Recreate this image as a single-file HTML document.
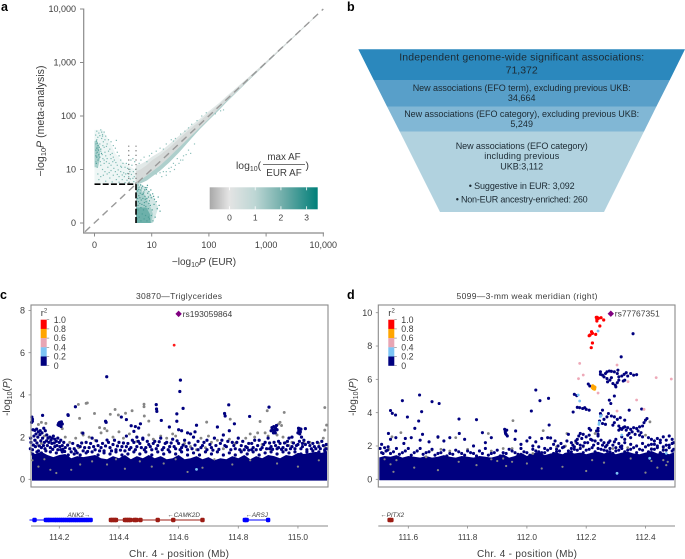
<!DOCTYPE html>
<html lang="en">
<head>
<meta charset="utf-8">
<title>Genome-wide association figure</title>
<style>
html,body{margin:0;padding:0;background:#fff;width:685px;height:559px;overflow:hidden}
svg{display:block;font-family:"Liberation Sans",sans-serif}
text{fill:#3c3c3c}
#funnelText text{fill:#1c2a33}
</style>
</head>
<body>
<svg id="fig" xmlns="http://www.w3.org/2000/svg" width="685" height="559" viewBox="0 0 685 559">
  <defs>
    <linearGradient id="cbar" x1="0" x2="1" y1="0" y2="0"></linearGradient>
  </defs>
  <rect width="685" height="559" fill="#fff"/>

  <g id="panelA">
    <text x="1" y="11" font-size="12.5" font-weight="bold" style="fill:#000">a</text>
    <text transform="translate(44,121) rotate(-90)" text-anchor="middle" font-size="10.6">−log<tspan font-size="7.4" dy="2">10</tspan><tspan dy="-2" font-style="italic">P</tspan> (meta-analysis)</text>
    <text x="204" y="265" text-anchor="middle" font-size="10">−log<tspan font-size="7" dy="2">10</tspan><tspan dy="-2" font-style="italic">P</tspan> (EUR)</text>
    <text x="236" y="169" font-size="10.4">log<tspan font-size="7" dy="2">10</tspan><tspan dy="-2">(</tspan></text>
    <text x="284" y="160" text-anchor="middle" font-size="9.8">max AF</text>
    <line x1="263" x2="305" y1="164.5" y2="164.5" stroke="#444" stroke-width="0.8"/>
    <text x="284" y="176" text-anchor="middle" font-size="9.8">EUR AF</text>
    <text x="305.5" y="169" font-size="10.4">)</text>
    <rect x="209.7" y="187.3" width="108" height="22" fill="url(#cbar)"/>
  </g>

  <g id="panelB">
    <text x="347" y="11" font-size="12.5" font-weight="bold" style="fill:#000">b</text>
    <polygon points="358.3,49.3 685,49.3 669.8,80 373.7,80" fill="#2b88bd"/>
    <polygon points="373.7,80 669.8,80 656.4,106.5 387,106.5" fill="#589fc9"/>
    <polygon points="387,106.5 656.4,106.5 644,131.5 399.7,131.5" fill="#81b7d5"/>
    <polygon points="399.7,131.5 644,131.5 604,212 440,212" fill="#b1d2df"/>
    <g id="funnelText" text-anchor="middle" style="dominant-baseline:central">
      <text x="521.7" y="57.7" font-size="10.5" textLength="245">Independent genome-wide significant associations:</text>
      <text x="521.7" y="70.3" font-size="10.5">71,372</text>
      <text x="521.7" y="88" font-size="9" textLength="218">New associations (EFO term), excluding previous UKB:</text>
      <text x="521.7" y="98" font-size="9">34,664</text>
      <text x="521.7" y="114" font-size="9" textLength="235">New associations (EFO category), excluding previous UKB:</text>
      <text x="521.7" y="124" font-size="9">5,249</text>
      <text x="521.7" y="146" font-size="9" textLength="132">New associations (EFO category)</text>
      <text x="521.7" y="156" font-size="9" textLength="75">including previous</text>
      <text x="521.7" y="166.5" font-size="9">UKB:3,112</text>
      <text x="521.7" y="186" font-size="9" textLength="106">• Suggestive in EUR: 3,092</text>
      <text x="521.7" y="199.5" font-size="9" textLength="132">• Non-EUR ancestry-enriched: 260</text>
    </g>
  </g>

  <g id="panelC">
    <text x="0" y="299" font-size="12.5" font-weight="bold" style="fill:#000">c</text>
    <text x="179" y="299" text-anchor="middle" font-size="8.5" textLength="86">30870—Triglycerides</text>
    <text transform="translate(10,397) rotate(-90)" text-anchor="middle" font-size="10">-log<tspan font-size="7" dy="2">10</tspan><tspan dy="-2">(</tspan><tspan font-style="italic">P</tspan>)</text>
    <text x="179" y="557" text-anchor="middle" font-size="10" textLength="100">Chr. 4 - position (Mb)</text>
  </g>
  <g id="panelD">
    <text x="347" y="299" font-size="12.5" font-weight="bold" style="fill:#000">d</text>
    <text x="527" y="299" text-anchor="middle" font-size="8.5" textLength="141">5099—3-mm weak meridian (right)</text>
    <text transform="translate(356,397) rotate(-90)" text-anchor="middle" font-size="10">-log<tspan font-size="7" dy="2">10</tspan><tspan dy="-2">(</tspan><tspan font-style="italic">P</tspan>)</text>
    <text x="527" y="557" text-anchor="middle" font-size="10" textLength="100">Chr. 4 - position (Mb)</text>
  </g>
</svg>

<script>
/* ---------- panel a data ---------- */
const aTickValues = [0, 10, 100, 1000, 10000];
const aTickLabels = ['0', '10', '100', '1,000', '10,000'];
const aThresholdEur = 4.7;
const aThresholdMeta = 4.7;
const aDottedEur = [3.2, 4.7];
const aDottedTop = 28;
const bandEur = [4.7, 6, 8, 10, 14, 20, 30, 50, 70, 100, 150, 200, 300, 500, 1000, 2000, 5000, 7000];
const bandHi = [12, 12.5, 14.5, 17, 21, 29, 42, 67, 88, 122, 172, 228, 332, 532, 1040, 2050, 5050, 7000];
const bandLo = [4.7, 5, 5.8, 7, 9.5, 13.5, 21, 39, 58, 85, 130, 180, 275, 470, 960, 1950, 4950, 7000];
const coreHi = [9, 10, 12, 14.5, 18.5, 25, 37, 60, 80, 112, 160, 215, 318, 520, 1025, 2030, 5030, 7000];
const coreLo = [4.7, 6, 7.5, 9, 12, 17, 26, 44, 62, 90, 140, 190, 285, 482, 975, 1970, 4970, 7000];
const leftBlobMeta = [4.7, 7, 10, 14, 20, 30, 40, 55];
const leftBlobEur = [4.7, 4.7, 4.4, 2.2, 1.4, 1, 0.7, 0.4];
const bottomBlobMeta = [0, 0.5, 1, 2, 3, 4, 4.7];
const bottomBlobEur = [10.5, 12, 13, 11, 9, 7.5, 6];
const bottomMidEur = [10, 10.5, 9.5, 8, 6.5, 5.3, 4.7];
const bottomCoreEur = [9.6, 9.2, 7.8, 5.8, 4.7, 4.7, 4.7];
const leftDarkMeta = [11, 15, 20, 28, 34];
const leftDarkEur = [0.16, 0.24, 0.26, 0.22, 0.12];
const aLeftSpecks = [[0.1,52],[0.2,48],[0.3,55],[0.4,45],[0.5,50],[0.15,40],[0.35,38],[0.6,42],[0.8,36],[0.7,30],[1,33],[1.2,28],[0.5,26],[0.9,24],[1.4,25],[1.1,20],[1.6,21],[1.8,18],[0.6,18],[1,16],[1.3,15],[2,15],[2.3,13],[0.5,13],[1,12],[1.6,12],[2,11.5],[2.6,11],[3,10.5],[0.4,10],[1,9.5],[1.4,9],[2,9],[2.4,8.5],[3,8.2],[3.4,9],[0.7,8],[1.2,7.5],[1.8,7],[2.5,7],[3.2,7],[3.7,7.8],[4.1,9],[0.3,7],[0.9,6.5],[1.5,6],[2.2,6],[2.9,5.8],[3.5,6.2],[4,6.4],[4.3,7],[0.2,6],[0.6,5.5],[1.1,5.3],[1.8,5.2],[2.6,5.1],[3.3,5.2],[4.2,5.4],[3.4,10],[3.8,12],[4.4,14],[2.8,13],[3.2,12.5],[0.3,22],[0.25,30],[0.12,26],[0.18,18],[0.45,33],[0.28,14],[0.55,21],[1.5,35],[2.1,11],[4.6,10],[4,16],[3.6,15],
[0.05,44],[0.1,36],[0.05,30],[0.15,24],[0.08,20],[0.2,16],[0.06,14],[0.3,12],[0.12,11],[0.42,16],[0.65,14],[0.75,11],[0.55,9],[0.85,8.6],[1.25,10.5],[1.7,9.8],[0.4,42],[0.55,36],[0.65,27],[0.8,22],[0.95,19],[1.2,17],[1.45,13.5],[1.15,14],[0.85,13],[0.35,50],[0.25,43],[0.42,28],[0.38,19],[0.5,15],[0.7,16],[2.7,8],[2.2,7.6],[1.6,7.8],[0.15,8],[0.45,7.5]];
const aLeftDarkSpecks = [[0.08,34],[0.12,31],[0.16,28],[0.1,25],[0.18,23],[0.12,21],[0.2,19],[0.1,17],[0.16,15],[0.22,26],[0.25,17],[0.08,13],[0.06,23],[0.06,18],[0.3,24],[0.34,20]];
const aBottomSpecks = [[5,0.2],[5.5,0.3],[6,0.1],[6.4,0.5],[7,0.2],[7.5,0.4],[8,0.1],[8.6,0.3],[9,0.2],[9.8,0.4],[10.5,0.1],[11.5,0.3],[5.2,0.8],[6,1],[6.8,0.8],[7.6,1.1],[8.5,0.9],[9.4,1.2],[10.2,0.8],[11,1.3],[12.5,0.9],[13.5,1.2],[5.3,1.6],[6.1,1.8],[7.1,1.5],[8,2],[9,1.7],[9.8,2.1],[11.2,1.9],[12,1.6],[5.4,2.4],[6.4,2.6],[7.3,2.3],[8.3,2.8],[9.4,2.5],[10.4,2.7],[5.1,3.2],[6,3.4],[6.9,3],[7.8,3.5],[8.8,3.1],[5.5,4],[6.5,4.2],[7.4,3.9],[8.2,4.4],[5.2,4.5],[14,0.7],[13,2.2],
[5.2,1.2],[5.7,1.4],[6.3,1.3],[7,1.2],[7.7,1.6],[8.8,1.4],[5.1,2],[5.7,2.1],[6.6,2],[7.4,1.9],[8.6,2.2],[5.8,2.8],[6.8,2.7],[5.4,3.5],[5.9,4.5],[6.2,3.8],[7.2,3.4],[9.6,3.4],[10.8,2.3],[8,3.9]];
const aBandSpecks = [[12,8],[14,8.5],[16,9],[18,9],[20,10.5],[22,11],[24,13],[26,12],[28,16],[32,15],[36,18],[44,23],[48,20],[56,30],[12,22],[14,25],[18,30],[22,36],[26,38],[32,46],[38,52],[44,60],[50,70],[62,82],[75,100],[90,115],[130,110],[160,125],[180,130],[8,14],[10,20],[7,17],[9,18],[6,15],[5.5,13],[16,24],[24,34],[15,7],[18,7.5],[21,9],[25,10],[30,13],[35,15],[40,19]];
const cbarTicks = [0, 1, 2, 3];
const cbarMin = -0.77;
const cbarMax = 3.43;
const cbarOffsets = [0, 0.18, 0.42, 0.7, 1];
const cbarColors = ['#a8a8a8', '#e4e4e4', '#bdd6d4', '#69aaa6', '#007f79'];

/* ---------- panel c data ---------- */
const cXTicks = [114.2, 114.4, 114.6, 114.8, 115.0];
const cYTicks = [0, 2, 4, 6, 8];
const cMassX0 = 114.1;
const cMassStep = 0.02;
const cMassTop = [1.3,1.2,1.3,1.15,1.05,1.15,1.2,1.0,1.1,1.05,1.1,1.15,1.0,0.95,1.1,1.0,1.15,0.95,1.1,1.0,1.15,1.0,1.1,0.95,1.0,1.15,0.95,1.0,1.1,0.95,1.05,0.9,1.0,0.95,1.1,1.0,1.15,0.95,1.1,1.0,1.15,1.1,1.0,1.15,1.1,1.25,1.2,1.25,1.3,1.25,1.35];
const cNavy = [[114.108,2.95],[114.11,2.85],[114.11,2.75],[114.107,2.7],[114.144,3.03],[114.104,1.95],[114.103,1.45],
[114.112,2.35],[114.118,2.32],[114.124,2.38],[114.13,2.25],[114.136,2.3],[114.142,2.2],[114.115,2.05],[114.122,2.15],[114.128,2.0],[114.135,2.12],[114.148,2.42],[114.144,1.95],[114.153,2.3],[114.158,2.1],[114.162,1.95],[114.168,2.0],[114.172,1.85],[114.176,1.95],[114.18,2.05],[114.185,1.9],[114.19,1.8],[114.195,1.95],[114.2,1.75],[114.205,1.85],[114.21,1.6],[114.215,1.75],[114.22,1.5],[114.15,1.75],[114.16,1.6],[114.17,1.5],[114.175,1.7],[114.185,1.55],[114.195,1.4],[114.205,1.4],[114.11,1.4],[114.12,1.55],[114.13,1.35],[114.14,1.5],
[114.198,2.65],[114.201,2.7],[114.204,2.6],[114.207,2.72],[114.2,2.55],[114.206,2.5],[114.21,2.62],[114.196,2.58],
[114.23,3.03],[114.254,3.44],[114.229,3.06],[114.355,2.75],[114.357,2.7],[114.359,4.86],[114.279,2.19],[114.36,1.86],[114.31,1.95],[114.29,1.75],[114.3,1.5],[114.27,1.55],[114.25,1.45],[114.24,1.3],[114.26,1.25],[114.28,1.35],[114.32,1.4],[114.33,1.6],[114.345,1.7],[114.35,1.35],[114.37,1.5],[114.38,1.65],[114.39,1.4],[114.4,1.75],[114.41,1.55],[114.42,1.35],[114.43,1.7],[114.44,1.5],[114.45,1.75],[114.46,1.55],[114.47,1.7],[114.48,1.9],[114.49,1.5],[114.5,1.65],[114.51,1.4],[114.52,1.8],[114.53,1.6],[114.54,1.95],[114.55,1.5],[114.56,1.75],[114.57,1.55],[114.58,1.9],[114.59,1.45],[114.6,1.7],[114.61,1.5],[114.62,1.85],[114.63,1.4],
[114.525,3.54],[114.526,3.33],[114.527,3.22],[114.542,2.79],[114.594,3.1],[114.594,2.75],[114.569,2.48],[114.408,2.95],[114.425,2.83],[114.441,2.54],[114.455,2.5],[114.466,2.43],[114.472,2.63],[114.45,2.27],[114.425,2.05],[114.46,2.0],[114.48,1.95],[114.606,4.7],[114.604,4.16],[114.615,3.36],[114.6,2.35],[114.61,2.3],[114.63,2.2],[114.64,2.15],[114.65,2.0],[114.655,2.25],[114.66,2.56],[114.665,1.8],[114.68,1.6],
[114.754,3.12],[114.756,3.0],[114.768,3.53],[114.787,2.63],[114.838,2.98],[114.903,3.42],[114.73,2.48],[114.695,1.85],[114.71,1.5],[114.72,1.95],[114.74,1.7],[114.75,2.1],[114.76,1.55],[114.77,2.3],[114.78,1.75],[114.79,1.45],[114.8,1.95],[114.81,1.6],[114.82,1.4],[114.83,1.5],[114.845,1.7],[114.86,1.4],[114.87,1.85],[114.88,1.5],[114.89,1.75],[114.9,1.95],[114.91,1.55],[114.92,1.75],[114.93,1.45],[114.94,1.7],[114.95,1.5],[114.96,1.4],[114.97,1.95],[114.98,2.0],[114.99,1.45],[115.0,1.65],[115.01,1.45],[115.02,1.85],[115.03,1.4],[115.04,1.6],[115.05,1.7],[115.06,1.45],[115.07,1.55],[115.08,1.8],[115.09,1.4],[115.095,1.65],
[114.91,2.3],[114.913,2.45],[114.916,2.35],[114.919,2.5],[114.922,2.3],[114.925,2.42],[114.928,2.55],[114.918,2.2],[114.924,2.2],[114.93,2.35],
[115.0,2.2],[115.003,2.32],[115.005,2.4],[115.008,2.25],[115.01,2.38],[115.002,2.42],[115.006,2.15],[115.012,2.0],[115.025,2.4],
[114.11,1.2],[114.125,1.3],[114.14,1.25],[114.155,1.35],[114.17,1.3],[114.19,1.25],[114.21,1.3],[114.23,1.15],[114.25,1.2],[114.27,1.15],[114.29,1.25],[114.31,1.3],[114.33,1.15],[114.35,1.25],[114.37,1.2],[114.39,1.3],[114.41,1.15],[114.43,1.2],[114.45,1.3],[114.47,1.2],[114.49,1.3],[114.51,1.15],[114.53,1.3],[114.55,1.2],[114.57,1.3],[114.59,1.2],[114.61,1.3],[114.63,1.15],[114.65,1.25],[114.67,1.15],[114.69,1.3],[114.71,1.2],[114.73,1.3],[114.75,1.15],[114.77,1.25],[114.79,1.15],[114.81,1.3],[114.83,1.2],[114.85,1.3],[114.87,1.15],[114.89,1.25],[114.91,1.3],[114.93,1.2],[114.95,1.3],[114.97,1.25],[114.99,1.3],[115.01,1.2],[115.03,1.3],[115.05,1.35],[115.07,1.3],[115.09,1.35]];
const cNavyExtra = [[114.105,1.75],[114.113,1.62],[114.118,1.85],[114.125,1.72],[114.133,1.58],[114.138,1.82],[114.147,1.6],[114.152,1.45],[114.157,1.82],[114.165,1.75],[114.178,1.42],[114.183,1.72],[114.192,1.6],[114.202,1.55],[114.212,1.42],[114.218,1.32],
[114.228,1.62],[114.235,1.45],[114.245,1.7],[114.255,1.35],[114.262,1.6],[114.275,1.72],[114.285,1.5],[114.295,1.32],[114.305,1.7],[114.315,1.55],[114.325,1.82],[114.335,1.35],[114.34,1.5],[114.355,1.58],[114.365,1.75],[114.375,1.35],[114.385,1.85],[114.395,1.58],
[114.405,1.38],[114.415,1.72],[114.425,1.55],[114.435,1.42],[114.445,1.85],[114.455,1.4],[114.465,1.8],[114.475,1.5],[114.485,1.4],[114.495,1.8],[114.505,1.55],[114.515,1.7],[114.525,1.45],[114.535,1.78],[114.545,1.4],[114.555,1.7],[114.565,1.4],[114.575,1.72],[114.585,1.55],[114.595,1.82],
[114.605,1.4],[114.615,1.62],[114.625,1.55],[114.635,1.72],[114.645,1.45],[114.655,1.62],[114.665,1.4],[114.675,1.5],[114.685,1.75],[114.695,1.4],[114.705,1.65],[114.715,1.38],[114.725,1.6],[114.735,1.42],[114.745,1.85],[114.755,1.6],[114.765,1.8],[114.775,1.4],[114.785,1.6],[114.795,1.75],
[114.805,1.4],[114.815,1.8],[114.825,1.55],[114.835,1.7],[114.85,1.5],[114.855,1.85],[114.865,1.6],[114.875,1.42],[114.885,1.65],[114.895,1.45],[114.905,1.72],[114.915,1.42],[114.925,1.6],[114.935,1.8],[114.945,1.42],[114.955,1.72],[114.965,1.6],[114.975,1.45],[114.985,1.72],[114.995,1.6],
[115.005,1.8],[115.015,1.55],[115.025,1.65],[115.035,1.75],[115.045,1.45],[115.055,1.55],[115.065,1.75],[115.075,1.45],[115.085,1.6],[115.095,1.45],[114.845,1.4],[114.835,1.38],[114.905,1.45],[114.935,1.5],[114.965,1.8],[114.98,1.55],[115.015,1.7]];
const cGrey = [[114.264,3.55],[114.29,3.6],[114.294,3.62],[114.318,3.12],[114.268,2.89],[114.371,3.08],[114.387,3.31],[114.398,3.05],[114.422,3.13],[114.444,3.25],[114.484,3.56],[114.484,3.44],[114.485,3.0],[114.5,2.76],[114.352,2.41],[114.335,2.45],[114.275,2.2],[114.694,2.71],[114.773,2.85],[114.873,2.74],[114.954,3.17],[115.09,3.4],[115.096,2.57],[115.09,2.33],[114.94,2.7],[114.935,2.62],[114.945,2.55],[114.93,2.1],[114.897,3.25],[114.21,2.4],[114.155,2.65],[114.14,2.7],[114.13,2.6],[114.15,2.05],[114.14,1.7],[114.13,1.6],[114.12,1.85],[114.22,2.0],[114.235,1.75],[114.255,1.95],[114.265,1.5],[114.28,2.1],[114.3,2.0],[114.32,1.85],[114.34,2.2],[114.36,2.3],[114.38,2.0],[114.4,2.25],[114.415,1.95],[114.435,2.15],[114.46,1.8],[114.5,2.1],[114.515,1.9],[114.54,2.05],[114.56,1.95],[114.58,2.15],[114.59,2.05],[114.62,1.7],[114.64,1.55],[114.66,1.4],[114.675,1.95],[114.7,2.05],[114.69,1.5],[114.71,1.75],[114.73,1.85],[114.75,1.45],[114.77,1.9],[114.79,1.7],[114.81,1.35],[114.825,1.95],[114.84,2.15],[114.855,2.0],[114.865,2.2],[114.88,1.65],[114.89,2.2],[114.9,2.05],[114.95,2.0],[114.96,1.75],[114.97,1.6],[114.98,1.75],[115.02,1.75],[115.04,1.75],[115.07,1.7],[115.085,1.95],[115.09,1.55]];
const cGreyLow = [[114.11,0.9],[114.13,0.6],[114.15,0.95],[114.17,0.45],[114.19,0.3],[114.24,0.45],[114.27,0.7],[114.31,0.85],[114.36,0.7],[114.39,0.95],[114.42,0.5],[114.47,0.85],[114.51,0.6],[114.55,0.75],[114.59,0.95],[114.63,0.35],[114.68,0.55],[114.72,0.95],[114.78,0.7],[114.84,0.9],[114.93,0.75],[115.0,0.6],[115.07,0.9]];
const cLightBlue = [[114.66,0.47]];
const cRed = [[114.585,6.36]];
const cLead = [114.6, 7.84];

/* ---------- panel d data ---------- */
const dXTicks = [111.6, 111.8, 112.0, 112.2, 112.4];
const dYTicks = [0, 2, 4, 6, 8, 10];
const dMassX0 = 111.5;
const dMassStep = 0.02;
const dMassTop = [1.3,1.4,1.35,1.45,1.3,1.4,1.35,1.3,1.4,1.3,1.35,1.45,1.35,1.3,1.4,1.35,1.3,1.4,1.35,1.3,1.4,1.5,1.3,1.4,1.6,1.4,1.55,1.65,1.45,1.55,1.6,1.5,1.65,1.55,1.6,1.5,1.6,1.65,1.55,1.65,1.5,1.6,1.65,1.55,1.5,1.6,1.7,1.55,1.6,1.5,1.65];
const dNavy = [[111.54,4.13],[111.546,3.96],[111.557,3.86],[111.58,4.72],[111.597,3.74],[111.638,5.06],[111.645,4.06],[111.635,3.5],[111.622,3.06],[111.68,4.66],[111.704,4.55],[111.771,3.62],[111.83,3.58],[112.03,5.36],[112.044,4.72],[112.073,4.86],[112.015,4.1],[112.075,3.26],[112.16,5.1],[112.168,5.02],[112.156,4.04],
[111.533,2.75],[111.54,2.4],[111.558,2.5],[111.51,2.1],[111.52,1.9],[111.532,1.95],[111.59,2.45],[111.61,2.5],[111.585,2.15],[111.648,2.7],[111.64,2.35],[111.67,2.25],[111.7,2.55],[111.72,2.3],[111.74,2.5],[111.772,2.75],[111.79,2.4],[111.85,2.8],[111.86,2.2],[111.82,2.0],[111.88,2.5],
[111.925,3.0],[111.927,2.85],[111.93,2.7],[111.932,2.95],[111.934,2.6],[111.928,2.75],[111.962,2.9],[111.96,2.4],[111.98,2.1],[112.0,2.3],[112.01,2.5],[112.03,2.25],[112.05,2.45],[112.07,2.5],[112.08,2.48],[112.09,2.1],[112.02,2.0],[112.04,1.95],[112.06,1.85],[112.1,1.8],
[112.14,2.7],[112.15,2.2],[112.17,2.4],[112.175,2.6],[112.18,2.75],[112.165,2.3],[112.185,2.45],[112.19,2.7],[112.2,2.55],[112.21,2.65],[112.215,2.4],[112.195,2.2],[112.18,2.05],[112.16,1.95],[112.15,1.85],[112.21,3.05],[112.215,2.95],[112.235,2.9],[112.24,2.7],[112.22,2.35],[112.23,2.3],[112.24,2.15],[112.25,2.35],[112.26,2.2],[112.27,2.05],[112.28,2.3],[112.29,2.05],[112.3,1.9],[112.31,2.15],[112.32,2.0],[112.265,1.95],[112.28,1.85],[112.3,2.4],
[112.24,3.05],[112.245,3.5],[112.25,3.85],[112.255,4.15],[112.248,3.95],[112.26,3.6],[112.27,3.75],[112.275,3.95],[112.285,3.8],[112.295,3.75],[112.305,3.6],[112.315,3.7],[112.33,3.55],[112.255,3.35],[112.265,3.3],[112.24,2.9],[112.24,2.6],[112.29,3.25],[112.295,3.4],[112.31,3.2],[112.32,3.0],[112.33,3.15],
[112.31,2.95],[112.315,3.05],[112.325,3.1],[112.335,2.95],[112.34,3.1],[112.35,3.0],[112.355,2.85],[112.36,3.1],[112.37,3.05],[112.375,2.9],[112.38,3.15],[112.39,3.2],[112.385,2.8],[112.395,3.4],[112.4,3.55],[112.405,3.65],[112.345,2.75],[112.365,2.7],[112.34,2.65],[112.32,2.55],
[112.38,2.65],[112.39,2.55],[112.41,2.5],[112.42,2.4],[112.43,2.3],[112.44,2.45],[112.45,2.2],[112.46,2.55],[112.47,2.35],[112.48,2.6],[112.49,2.4],[112.495,2.2],[112.42,2.1],[112.44,2.0],[112.46,1.95],[112.48,2.05],
[112.178,4.3],[112.188,4.25],[112.195,4.3],[112.2,4.2],[112.21,4.15],[112.17,4.32],[112.207,5.72],[112.212,5.6],[112.248,6.3],[112.265,6.35],[112.27,6.45],[112.278,6.5],[112.285,6.48],[112.295,6.45],[112.305,6.35],[112.31,6.15],[112.31,5.95],[112.305,5.8],[112.298,5.65],[112.29,5.75],[112.28,5.95],[112.27,6.05],[112.26,6.15],[112.272,5.85],[112.255,6.25],[112.285,6.1],[112.3,5.55],[112.32,6.2],[112.328,6.3],[112.335,6.4],[112.34,6.2],[112.35,6.35],[112.36,6.25],[112.37,6.28],[112.33,5.95],[112.325,5.9],[112.248,6.45],[112.318,7.35],[112.307,6.55],[112.358,8.74],[112.295,5.0],[112.278,4.75],[112.283,4.55],[112.387,4.22],[112.345,4.15],
[111.51,1.6],[111.53,1.75],[111.55,1.65],[111.57,1.5],[111.59,1.7],[111.61,1.45],[111.63,1.7],[111.65,1.5],[111.67,1.65],[111.69,1.45],[111.71,1.6],[111.73,1.4],[111.75,1.5],[111.77,1.65],[111.79,1.45],[111.81,1.6],[111.83,1.4],[111.85,1.55],[111.87,1.45],[111.89,1.6],[111.91,1.4],[111.93,1.55],[111.95,1.7],[111.97,1.5],[111.99,1.65],[112.01,1.45],[112.03,1.7],[112.05,1.6],[112.07,1.75],[112.09,1.55],[112.11,1.7],[112.13,1.5],[112.15,1.65],[112.17,1.75],[112.19,1.6],[112.21,1.8],[112.23,1.65],[112.25,1.8],[112.27,1.7],[112.29,1.55],[112.31,1.75],[112.33,1.65],[112.35,1.8],[112.37,1.6],[112.39,1.75],[112.41,1.65],[112.43,1.8],[112.45,1.6],[112.47,1.75],[112.49,1.7]];
const dNavyExtra = [[111.505,1.85],[111.515,1.55],[111.525,1.7],[111.54,1.55],[111.56,1.85],[111.58,1.6],[111.6,1.85],[111.62,1.6],[111.64,1.85],[111.66,1.6],[111.68,1.8],[111.7,1.55],[111.72,1.75],[111.74,1.55],[111.76,1.75],[111.78,1.55],[111.8,1.7],[111.82,1.55],[111.84,1.7],[111.86,1.85],[111.88,1.55],[111.9,1.75],[111.92,1.6],[111.94,1.8],[111.96,1.6],[111.98,1.85],[112.0,1.6],[112.02,1.8],[112.04,1.65],[112.06,1.6],[112.08,1.85],[112.1,1.65],[112.12,1.9],[112.14,1.7],[112.16,1.8],[112.18,1.85],[112.2,1.75],[112.22,1.9],[112.24,1.85],[112.26,1.75],[112.28,1.65],[112.3,1.7],[112.32,1.85],[112.34,1.75],[112.36,1.9],[112.38,1.8],[112.4,1.95],[112.42,1.8],[112.44,1.9],[112.46,1.75],[112.48,1.9],[112.495,1.8],
[112.095,2.3],[112.105,2.0],[112.115,2.15],[112.125,1.95],[112.135,2.3],[112.155,2.05],[112.17,2.15],[112.19,2.0],[112.205,2.2],[112.225,2.05],[112.255,2.05],[112.275,2.2],[112.295,2.25],[112.315,1.95],[112.33,2.2],[112.35,2.1],[112.37,2.0],[112.39,2.15],[112.41,2.05],[112.43,2.1],[112.45,2.35],[112.47,2.05],[112.49,2.15],[112.33,2.4],[112.35,2.5]];
const dGrey = [[111.545,2.55],[111.575,2.8],[111.535,1.8],[111.6,1.85],[111.7,2.5],[111.76,2.5],[111.87,2.75],[111.953,3.52],[112.055,2.92],[112.135,2.75],[112.165,2.2],[112.23,2.75],[112.415,3.45],[112.4,2.65],[111.66,1.35],[111.68,1.75],[111.71,1.8],[111.74,1.7],[111.8,1.8],[111.88,1.7],[111.92,1.85],[111.95,1.85],[111.98,1.85],[112.02,1.55],[112.1,1.95],[112.13,2.0],[112.19,1.95],[112.29,1.85],[112.34,1.9],[112.42,1.85],[112.46,1.85]];
const dGreyLow = [[111.52,1.2],[111.54,0.9],[111.56,1.15],[111.77,1.05],[111.88,1.2],[111.9,1.1],[111.92,1.25],[111.93,0.8],[111.95,1.05],[112.0,0.95],[112.22,1.15],[112.26,1.0],[112.35,1.25],[112.42,1.1],[112.44,0.7],[112.46,1.15],[112.47,0.85],[112.475,1.05],[111.55,0.45],[111.62,0.7],[111.7,0.55],[111.83,0.85],[112.05,0.65],[112.12,0.75],[112.2,0.5],[112.4,0.4]];
const dLightBlue = [[112.24,8.9],[112.173,5.06],[112.178,4.7],[112.248,3.77],[112.244,3.42],[112.25,3.82],[112.32,2.66],[112.304,0.36],[112.47,1.56],[112.414,1.26],[112.243,3.3]];
const dPink = [[112.178,6.96],[112.19,6.26],[112.174,6.04],[112.304,6.86],[112.341,5.86],[112.436,6.1],[112.487,6.02],[112.24,5.18],[112.37,4.76],[112.395,4.2],[112.304,4.1]];
const dOrange = [[112.222,5.6],[112.226,5.55],[112.224,5.45],[112.228,5.42],[112.221,5.5],[112.229,5.52]];
const dRed = [[112.234,9.72],[112.236,9.6],[112.236,9.5],[112.25,9.7],[112.259,9.56],[112.241,9.66],[112.246,9.2],[112.213,8.66],[112.21,8.62],[112.218,8.86],[112.221,8.76],[112.232,8.7],[112.221,8.18],[112.217,7.9],[112.237,9.72]];
const dLead = [112.283, 9.94];

/* ---------- legend and gene data ---------- */
const r2Labels = ['1.0', '0.8', '0.6', '0.4', '0.2', '0'];
const r2Colors = ['#ff0000', '#ffa500', '#e8a5b3', '#7cc4f4', '#00007f'];
const cAnk2Exons = [114.117,114.155,114.162,114.168,114.176,114.184,114.19,114.197,114.204,114.211,114.218,114.225,114.232,114.238,114.245,114.252,114.258,114.265,114.272,114.28,114.288,114.296,114.305];
const cAnk2Span = [114.1, 114.31];
const cCamk2dExons = [114.373,114.378,114.385,114.39,114.42,114.426,114.432,114.438,114.452,114.458,114.472,114.53,114.582,114.68];
const cCamk2dSpan = [114.37, 114.685];
const cArsjExons = [114.822, 114.828, 114.9];
const cArsjSpan = [114.82, 114.902];
const dPitx2Exons = [111.537, 111.543];
const dPitx2Span = [111.535, 111.545];

/* ---------- scales ---------- */
const SVGNS = 'http://www.w3.org/2000/svg';
const pseudoLog = v => v <= 10 ? Math.log10(1 + v) / Math.log10(11) : Math.log10(v);
const ax = v => 94.5 + 57.2 * pseudoLog(v);
const ay = v => 223 - 53.5 * pseudoLog(v);
const cx = v => 59.3 + (v - 114.2) * 298.3;
const cy = v => 479.3 - v * 21.1;
const dx = v => 408.3 + (v - 111.6) * 296.5;
const dy = v => 479.3 - v * 16.66;

function mk(parent, name, attrs) {
  const e = document.createElementNS(SVGNS, name);
  for (const k in attrs) e.setAttribute(k, attrs[k]);
  parent.appendChild(e);
  return e;
}
const polyStr = pts => pts.map(p => p[0].toFixed(2) + ',' + p[1].toFixed(2)).join(' ');
const zip = (xs, ys) => xs.map((x, i) => [x, ys[i]]);

/* ---------- panel a ---------- */
const A = document.getElementById('panelA');
const aMarks = mk(A, 'g', {});



function blobLeft(metas, eurs, fill, name) {
  const pts = [[ax(0), ay(metas[0])]].concat(metas.map((m, i) => [ax(eurs[i]), ay(m)]));
  pts.push([ax(0), ay(metas[metas.length - 1])]);
  const p = mk(aMarks, 'polygon', {points: polyStr(pts), fill: fill});
  
  
}
blobLeft(leftBlobMeta, leftBlobEur, '#eef6f5', 'left-blob-density');
blobLeft(leftDarkMeta, leftDarkEur, '#a8d0cc', 'left-blob-core');

function blobBottom(metas, eurs, fill, name) {
  const pts = metas.map((m, i) => [ax(eurs[i]), ay(m)]);
  pts.push([ax(aThresholdEur), ay(metas[metas.length - 1])]);
  pts.push([ax(aThresholdEur), ay(0)]);
  const p = mk(aMarks, 'polygon', {points: polyStr(pts), fill: fill});
  
  
}
blobBottom(bottomBlobMeta, bottomBlobEur, '#d3e7e5', 'bottom-blob-density');
blobBottom(bottomBlobMeta, bottomMidEur, '#a6cfcb', 'bottom-blob-mid');
blobBottom(bottomBlobMeta.slice(0, 3), bottomCoreEur.slice(0, 3), '#6cb0aa', 'bottom-blob-core');

function bandPoly(hi, lo, fill, name) {
  const pts = zip(bandEur, hi).map(d => [ax(d[0]), ay(d[1])])
    .concat(zip(bandEur, lo).reverse().map(d => [ax(d[0]), ay(d[1])]));
  const p = mk(aMarks, 'polygon', {points: polyStr(pts), fill: fill, stroke: fill, 'stroke-width': 0.5});
  
  
}
bandPoly(bandHi, coreLo, '#e2e9e8', 'diagonal-band-upper');
bandPoly(coreLo, bandLo, '#aecfcc', 'diagonal-band-lower');
bandPoly(coreHi, coreLo, '#d6dad9', 'diagonal-band-core');

function specks(list, fill, name) {
  list.forEach(d => {
    const s = mk(aMarks, 'rect', {x: ax(d[0]) - 0.6, y: ay(d[1]) - 0.6, width: 1.2, height: 1.2, fill: fill});
    
    
  });
}
specks(aLeftSpecks, '#7fbab4', 'left-speck');
specks(aLeftDarkSpecks, '#4f9f98', 'left-dark-speck');
specks(aBottomSpecks, '#4c9d96', 'bottom-speck');
specks(aBandSpecks, '#8dc0bb', 'band-speck');

const diag = mk(A, 'line', {x1: ax(0) - 9.5, y1: ay(0) + 8.7, x2: ax(10000), y2: ay(10000), stroke: '#999', 'stroke-width': 1.4, 'stroke-dasharray': '7 5'});



const hThresh = mk(A, 'line', {x1: ax(0), y1: ay(aThresholdMeta), x2: ax(aThresholdEur), y2: ay(aThresholdMeta), stroke: '#000', 'stroke-width': 1.6, 'stroke-dasharray': '6 2.2'});


const vThresh = mk(A, 'line', {x1: ax(aThresholdEur), y1: ay(aThresholdMeta), x2: ax(aThresholdEur), y2: ay(0), stroke: '#000', 'stroke-width': 1.6, 'stroke-dasharray': '6 2.2'});


aDottedEur.forEach(v => {
  const l = mk(A, 'line', {x1: ax(v), y1: ay(aDottedTop), x2: ax(v), y2: ay(aThresholdMeta), stroke: '#777', 'stroke-width': 1.2, 'stroke-dasharray': '1.2 3.4'});
  
  
});

const aYAxis = mk(A, 'line', {x1: 83.7, y1: 8.5, x2: 83.7, y2: 233.5, stroke: '#8a8a8a', 'stroke-width': 1.2});


const aXAxis = mk(A, 'line', {x1: 83.1, y1: 233, x2: 324, y2: 233, stroke: '#8a8a8a', 'stroke-width': 1.2});


aTickValues.forEach((v, i) => {
  const t1 = mk(A, 'line', {x1: 80, x2: 83.7, y1: ay(v), y2: ay(v), stroke: '#8a8a8a', 'stroke-width': 1});
  
  
  const l1 = mk(A, 'text', {x: 76, y: ay(v) + 3.2, 'text-anchor': 'end', 'font-size': 9});
  l1.textContent = aTickLabels[i];
  
  
  const t2 = mk(A, 'line', {x1: ax(v), x2: ax(v), y1: 233, y2: 236.5, stroke: '#8a8a8a', 'stroke-width': 1});
  
  
  const l2 = mk(A, 'text', {x: ax(v), y: 248, 'text-anchor': 'middle', 'font-size': 9});
  l2.textContent = aTickLabels[i];
  
  
});

const grad = document.getElementById('cbar');
cbarColors.forEach((c, i) => {
  const s = mk(grad, 'stop', {offset: cbarOffsets[i], 'stop-color': c});
  
  
});
const cbarX = v => 209.7 + (v - cbarMin) / (cbarMax - cbarMin) * 108;
cbarTicks.forEach(v => {
  [[187.3, 190.3], [206.3, 209.3]].forEach(seg => {
    const t = mk(A, 'line', {x1: cbarX(v), x2: cbarX(v), y1: seg[0], y2: seg[1], stroke: '#fff', 'stroke-width': 0.8});
    
    
  });
  const l = mk(A, 'text', {x: cbarX(v), y: 220.3, 'text-anchor': 'middle', 'font-size': 8.5});
  l.textContent = String(v);
  
  
});

/* ---------- locus zoom panels ---------- */
function locus(groupId, sx, sy, frameL, frameR, xTicks, yTicks, x0, step, top, layers, lead, leadName, legendX) {
  const G = document.getElementById(groupId);
  const frameT = 305, frameB = 487;
  const dots = mk(G, 'g', {});
  
  

  const massPts = top.map((v, i) => [sx(x0 + i * step), sy(v)]);
  massPts.push([frameR - 1, sy(top[top.length - 1])], [frameR - 1, sy(-0.06)], [frameL + 1, sy(-0.06)], [frameL + 1, sy(top[0])]);
  const mass = mk(dots, 'polygon', {points: polyStr(massPts), fill: '#00007f'});
  
  

  layers.forEach(layer => {
    layer.data.forEach(d => {
      const c = mk(dots, 'circle', {cx: sx(d[0]), cy: sy(d[1]), r: layer.r, fill: layer.color});
      
      
    });
  });

  const lx = sx(lead[0]), ly = sy(lead[1]);
  const dia = mk(dots, 'polygon', {points: polyStr([[lx, ly - 3.2], [lx + 3.2, ly], [lx, ly + 3.2], [lx - 3.2, ly]]), fill: '#800080'});
  
  
  const ll = mk(G, 'text', {x: lx + 4, y: ly + 3, 'font-size': 8.5});
  ll.textContent = leadName;
  
  

  const frame = mk(G, 'rect', {x: frameL, y: frameT, width: frameR - frameL, height: frameB - frameT, fill: 'none', stroke: '#8a8a8a', 'stroke-width': 1.1});
  
  
  yTicks.forEach(v => {
    const t = mk(G, 'line', {x1: frameL - 2.5, x2: frameL, y1: sy(v), y2: sy(v), stroke: '#8a8a8a', 'stroke-width': 0.8});
    
    
    const l = mk(G, 'text', {x: frameL - 6, y: sy(v) + 3.2, 'text-anchor': 'end', 'font-size': 9});
    l.textContent = String(v);
    
    
  });
  const base = mk(G, 'line', {x1: frameL, x2: frameR, y1: 526, y2: 526, stroke: '#8a8a8a', 'stroke-width': 1});
  
  
  xTicks.forEach(v => {
    const t = mk(G, 'line', {x1: sx(v), x2: sx(v), y1: 526, y2: 528.5, stroke: '#8a8a8a', 'stroke-width': 0.8});
    
    
    const l = mk(G, 'text', {x: sx(v), y: 540, 'text-anchor': 'middle', 'font-size': 8.3});
    l.textContent = v.toFixed(1);
    
    
  });

  const leg = mk(G, 'g', {});
  
  
  const segH = 9.2, legT = 319.7, legW = 6;
  r2Colors.forEach((c, i) => {
    const s = mk(leg, 'rect', {x: legendX, y: legT + i * segH, width: legW, height: segH + 0.1, fill: c});
    
    
  });
  r2Labels.forEach((txt, i) => {
    const yy = legT + i * segH;
    const t = mk(leg, 'line', {x1: legendX + legW, x2: legendX + legW + 2.5, y1: yy, y2: yy, stroke: '#777', 'stroke-width': 0.6});
    
    
    const l = mk(leg, 'text', {x: legendX + 13, y: yy + 3.1, 'font-size': 8.8});
    l.textContent = txt;
    
    
  });
  const rt = mk(leg, 'text', {x: legendX, y: 316, 'font-size': 9.5});
  rt.textContent = 'r';
  
  
  const rs = mk(rt, 'tspan', {dy: -3.5, 'font-size': 6});
  rs.textContent = '2';
}

locus('panelC', cx, cy, 31, 328, cXTicks, cYTicks, cMassX0, cMassStep, cMassTop, [
  {data: cGrey, color: '#868686', r: 1.45, name: 'point-r2-missing'},
  {data: cNavyExtra, color: '#00007f', r: 1.6, name: 'point-r2-0-0.2'},
  {data: cNavy, color: '#00007f', r: 1.6, name: 'point-r2-0-0.2'},
  {data: cGreyLow, color: '#868686', r: 1.1, name: 'point-r2-missing'},
  {data: cLightBlue, color: '#7cc4f4', r: 1.4, name: 'point-r2-0.2-0.4'},
  {data: cRed, color: '#ff1a1a', r: 1.4, name: 'point-r2-0.8-1.0'}
], cLead, 'rs193059864', 40.7);

locus('panelD', dx, dy, 378.3, 675, dXTicks, dYTicks, dMassX0, dMassStep, dMassTop, [
  {data: dGrey, color: '#868686', r: 1.4, name: 'point-r2-missing'},
  {data: dNavyExtra, color: '#00007f', r: 1.55, name: 'point-r2-0-0.2'},
  {data: dNavy, color: '#00007f', r: 1.55, name: 'point-r2-0-0.2'},
  {data: dGreyLow, color: '#868686', r: 1.1, name: 'point-r2-missing'},
  {data: dLightBlue, color: '#7cc4f4', r: 1.4, name: 'point-r2-0.2-0.4'},
  {data: dPink, color: '#eea9b8', r: 1.4, name: 'point-r2-0.4-0.6'},
  {data: dOrange, color: '#ffa500', r: 1.7, name: 'point-r2-0.6-0.8'},
  {data: dRed, color: '#ff0000', r: 1.6, name: 'point-r2-0.8-1.0'}
], dLead, 'rs77767351', 388.3);

/* ---------- genes ---------- */
function gene(groupId, sx, span, exons, color, label, labelMb, geneName) {
  const G = document.getElementById(groupId);
  const line = mk(G, 'line', {x1: sx(span[0]), x2: sx(span[1]), y1: 520, y2: 520, stroke: color, 'stroke-width': 1.1});
  
  
  exons.forEach(m => {
    const r = mk(G, 'rect', {x: sx(m) - 2.2, y: 517.8, width: 4.4, height: 4.4, rx: 1.2, fill: color});
    
    
  });
  const t = mk(G, 'text', {x: sx(labelMb), y: 517, 'text-anchor': 'middle', 'font-size': 6.3, 'font-style': 'italic'});
  t.textContent = label;
  
  
}
gene('panelC', cx, cAnk2Span, cAnk2Exons, '#0000ff', 'ANK2→', 114.266, 'ank2');
gene('panelC', cx, cCamk2dSpan, cCamk2dExons, '#9c1c14', '←CAMK2D', 114.617, 'camk2d');
gene('panelC', cx, cArsjSpan, cArsjExons, '#0000ff', '←ARSJ', 114.862, 'arsj');
gene('panelD', dx, dPitx2Span, dPitx2Exons, '#9c1c14', '←PITX2', 111.546, 'pitx2');
</script>
</body>
</html>
